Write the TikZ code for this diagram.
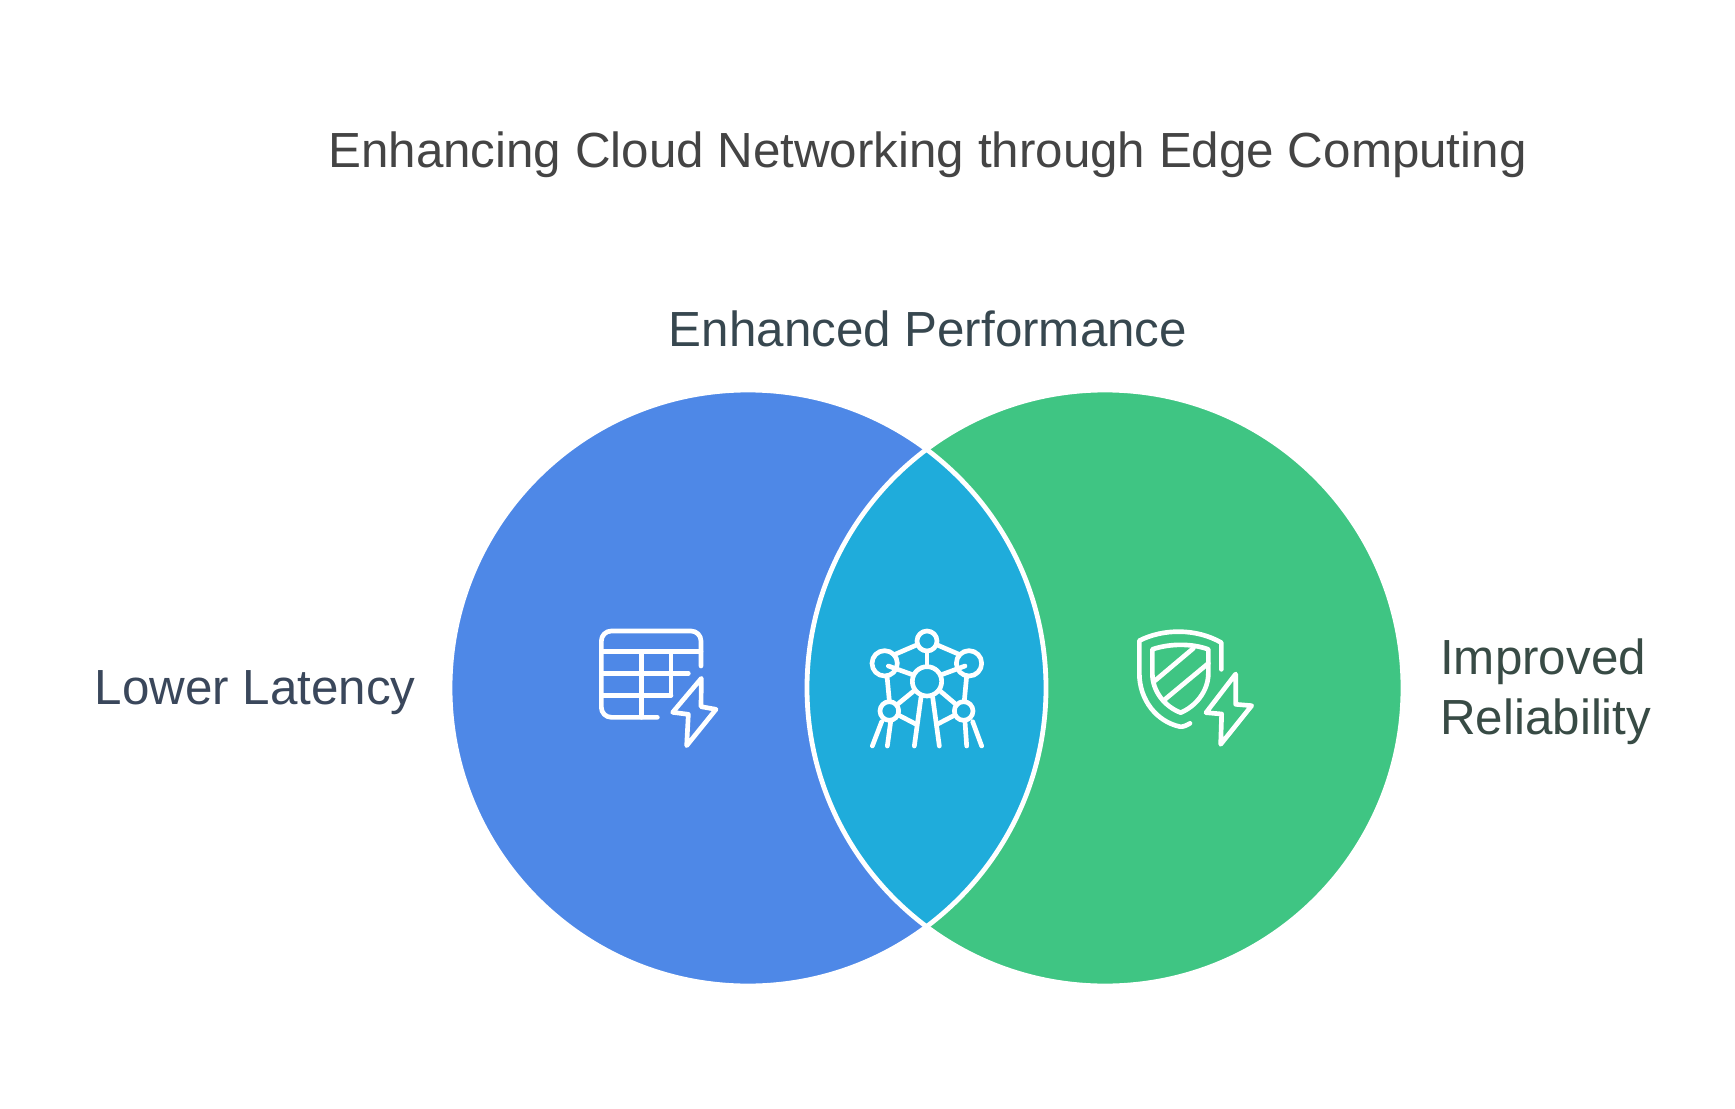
\documentclass[tikz,border=0pt]{standalone}
\usepackage{fontspec}
\setmainfont{Liberation Sans}
\usepackage{xcolor}
\definecolor{blueDisc}{HTML}{4E88E7}
\definecolor{greenDisc}{HTML}{3FC583}
\definecolor{lensFill}{HTML}{1FACDB}
\definecolor{titleGrey}{HTML}{444444}
\definecolor{midText}{HTML}{37474F}
\definecolor{leftText}{HTML}{3A475B}
\definecolor{rightText}{HTML}{384B45}
\tikzset{
    label text/.style={inner sep=0pt, anchor=base, font=\fontsize{37}{41}\selectfont},
    icon line/.style={draw=white, line width=3.5pt, line cap=round, line join=round},
}

\begin{document}
\begin{tikzpicture}[x=0.75pt, y=-0.75pt]
    \useasboundingbox (0,0) rectangle (1735,1109);

    % Define the disc centres
    \coordinate (L) at (748,688);
    \coordinate (R) at (1105,688);

    % Draw the discs
    \fill[blueDisc] (L) circle[radius=298];
    \fill[greenDisc] (R) circle[radius=298];

    % Draw the overlap
    \begin{scope}
        \clip (L) circle[radius=298];
        \fill[lensFill] (R) circle[radius=298];
    \end{scope}

    % White edge of both discs
    \draw[white, line width=3.6pt] (L) circle[radius=298];
    \draw[white, line width=3.6pt] (R) circle[radius=298];

    % Label the picture
    \node[label text, text=titleGrey] (title) at (927.5,168) {Enhancing Cloud Networking through Edge Computing};
    \node[label text, text=midText] (overlap) at (928,347) {Enhanced Performance};
    \node[label text, text=leftText, anchor=base east] (latency) at (416,704) {Lower Latency};
    \node[label text, text=rightText, anchor=base west] (improved) at (1440,674) {Improved};
    \node[label text, text=rightText, anchor=base west] (reliability) at (1440,734) {Reliability};

    % Table with bolt
    \begin{scope}[shift={(570,600)}, scale=1/3]
        \draw[icon line, rounded corners=7.5pt] (393,198) -- (393,93) -- (94,93) -- (94,352) -- (262,352);
        \draw[icon line] (94,155) -- (393,155);
        \draw[icon line] (94,220) -- (355,220);
        \draw[icon line] (94,286) -- (303,286);
        \draw[icon line] (215,155) -- (215,352);
        \draw[icon line] (303,155) -- (303,286);
        \draw[icon line] (394,235) -- (308,337) -- (355,343) -- (350,437) -- (438,328) -- (393,320) -- cycle;
    \end{scope}

    % Atom tower
    \begin{scope}[shift={(850,610)}, scale=1/3]
        \draw[icon line] (231,93) circle[radius=30];
        \draw[icon line] (231,214) circle[radius=44];
        \draw[icon line] (118,303) circle[radius=28];
        \draw[icon line] (341,303) circle[radius=28];
        \draw[icon line] (104,160) circle[radius=38];
        \draw[icon line] (357,160) circle[radius=38];
        \draw[icon line] (200,105) -- (135,133);
        \draw[icon line] (262,105) -- (327,133);
        \draw[icon line] (231,125) -- (231,168);
        \draw[icon line] (115,168) -- (190,195);
        \draw[icon line] (345,168) -- (272,195);
        \draw[icon line] (111,198) -- (118,272);
        \draw[icon line] (350,198) -- (343,272);
        \draw[icon line] (195,240) -- (140,285);
        \draw[icon line] (267,240) -- (320,285);
        \draw[icon line] (145,315) -- (197,342);
        \draw[icon line] (315,315) -- (263,342);
        \draw[icon line] (213,262) -- (193,408);
        \draw[icon line] (248,262) -- (268,408);
        \draw[icon line] (95,335) -- (67,408);
        \draw[icon line] (122,335) -- (112,408);
        \draw[icon line] (345,335) -- (350,408);
        \draw[icon line] (368,335) -- (395,408);
    \end{scope}

    % Shield with bolt
    \begin{scope}[shift={(1120,610)}, scale=1/3]
        \draw[icon line] (304,178) -- (304,98) .. controls (230,55) and (130,55) .. (58,92) -- (58,190)
            .. controls (58,270) and (110,335) .. (180,350) .. controls (190,351) and (200,346) .. (210,340);
        \draw[icon line] (97,118) .. controls (150,100) and (215,100) .. (265,118) -- (265,190)
            .. controls (265,245) and (225,290) .. (182,308) .. controls (135,290) and (97,245) .. (97,190) -- cycle;
        \draw[icon line] (220,115) -- (105,212);
        \draw[icon line] (265,160) -- (135,268);
        \draw[icon line] (347,192) -- (258,308) -- (305,312) -- (302,403) -- (395,287) -- (347,283) -- cycle;
    \end{scope}
\end{tikzpicture}
\end{document}
